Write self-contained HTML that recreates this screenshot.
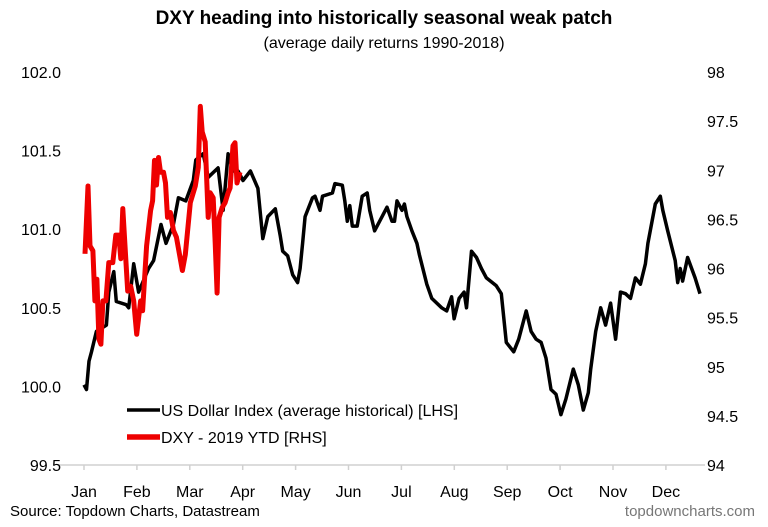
<!DOCTYPE html>
<html><head><meta charset="utf-8"><style>
body{margin:0;background:#fff;}
svg{display:block;font-family:"Liberation Sans",Arial,sans-serif;}
</style></head><body>
<svg id="chart" width="768" height="527">
<text x="384" y="24" text-anchor="middle" font-size="19" font-weight="bold" fill="#000">DXY heading into historically seasonal weak patch</text>
<text x="384" y="48" text-anchor="middle" font-size="16" fill="#000">(average daily returns 1990-2018)</text>
<g id="axes"></g>
<g id="series"></g>
<g>
<line x1="127" y1="410" x2="160" y2="410" stroke="#000" stroke-width="3.5"/>
<text x="161" y="416" font-size="16" fill="#000">US Dollar Index (average historical) [LHS]</text>
<line x1="127" y1="437" x2="160" y2="437" stroke="#e00" stroke-width="5.5"/>
<text x="161" y="443" font-size="16" fill="#000">DXY - 2019 YTD [RHS]</text>
</g>
<text x="10" y="516" font-size="15" fill="#000">Source: Topdown Charts, Datastream</text>
<text x="755" y="516" text-anchor="end" font-size="15" fill="#777">topdowncharts.com</text>
</svg>
<script>
const months=["Jan","Feb","Mar","Apr","May","Jun","Jul","Aug","Sep","Oct","Nov","Dec"];
const leftTicks=[99.5,100.0,100.5,101.0,101.5,102.0];
const rightTicks=[94,94.5,95,95.5,96,96.5,97,97.5,98];
const usdDays=[0,1,2,3,5,9,10,12,13,17,18,20,22,26,28,31,33,36,38,41,44,45,48,50,54,56,58,60,62,64,67,70,72,74,77,79,80,82,84,86,87,88,89,92,93,95,96,100,101,104,105,106,107,108,110,112,114,115,117,120,122,124,125,126,128,129,130,132,134,135,138,140,144,146,148,149,151,153,154,156,158,160,162,166,168,170,173,175,178,180,182,184,186,188,190,192,194,197,199,201,203,204,206,208,210,212,214,216,218,220,222,224,226,227,230,232,233,235,238,239,240,241,243,246,248];
const usdValues=[100.01,99.98,100.16,100.22,100.35,100.39,100.60,100.73,100.54,100.52,100.50,100.78,100.60,100.75,100.80,101.03,100.91,101.03,101.20,101.18,101.31,101.44,101.48,101.33,101.39,101.12,101.48,101.37,101.37,101.31,101.37,101.26,100.94,101.08,101.13,100.96,100.86,100.83,100.71,100.66,100.75,100.91,101.08,101.20,101.21,101.12,101.21,101.23,101.29,101.28,101.18,101.05,101.15,101.02,101.02,101.21,101.23,101.12,100.99,101.08,101.14,101.05,101.05,101.18,101.12,101.16,101.08,100.99,100.91,100.84,100.65,100.56,100.50,100.48,100.57,100.43,100.56,100.60,100.50,100.86,100.82,100.75,100.69,100.64,100.59,100.28,100.22,100.30,100.48,100.35,100.30,100.28,100.18,99.98,99.95,99.82,99.92,100.11,100.01,99.85,99.96,100.11,100.35,100.50,100.39,100.53,100.30,100.60,100.59,100.56,100.69,100.65,100.78,100.91,101.16,101.21,101.12,100.99,100.80,100.66,100.75,100.67,100.82,100.69,100.59];
const dxyDays=[0.4,1.6,2.4,3.6,4.4,5.2,6,6.8,7.6,8.8,10,11.6,12.8,14,14.8,15.6,16.8,17.6,18.8,20,21.2,22.8,23.6,25.2,26.8,27.6,28.4,29.2,30,30.8,32,32.8,33.6,34.8,36,37.2,39.6,40.8,42.8,44.8,46,46.8,47.6,48.8,50,50.8,52,52.8,53.6,54.4,55.6,56.8,58,58.8,60,60.8,61.6,62.8];
const dxyValues=[96.15,96.84,96.23,96.18,95.67,95.89,95.28,95.23,95.67,95.67,96.06,96.06,96.34,96.34,96.10,96.61,96.11,95.77,95.82,95.67,95.33,95.67,95.57,96.23,96.59,96.69,97.10,96.85,97.13,96.98,96.98,96.87,96.52,96.57,96.39,96.32,95.98,96.14,96.67,96.84,97.03,97.65,97.39,97.29,96.52,96.77,96.72,96.26,95.75,96.52,96.62,96.67,96.77,96.82,97.25,97.28,96.87,96.98];

const NS="http://www.w3.org/2000/svg";
const X0=84,X1=705,Y0=72,Y1=465,TOTAL=250;
function xDay(d){return X0+d/TOTAL*(X1-X0);}
function xMonth(i){return 84+i*52.9;}
function yL(v){return Y1-(v-99.5)/(102-99.5)*(Y1-Y0);}
function yR(v){return Y1-(v-94)/(98-94)*(Y1-Y0);}
function mk(tag,attrs,parent){const e=document.createElementNS(NS,tag);for(const k in attrs)e.setAttribute(k,attrs[k]);parent.appendChild(e);return e;}
const axes=document.getElementById('axes'),series=document.getElementById('series');

const axisLine=mk('line',{x1:57,y1:Y1,x2:X1,y2:Y1,stroke:'#d0d0d0','stroke-width':1.5},axes);


months.forEach((m,i)=>{
  const x=xMonth(i);
  const t=mk('line',{x1:x,y1:Y1,x2:x,y2:Y1+5,stroke:'#d0d0d0','stroke-width':1.5},axes);
  
  
  const l=mk('text',{x:x,y:497,'text-anchor':'middle','font-size':16,fill:'#000'},axes);
  l.textContent=m;
  
  
});
leftTicks.forEach(v=>{
  const l=mk('text',{x:61,y:yL(v)+6,'text-anchor':'end','font-size':16,fill:'#000'},axes);
  l.textContent=v.toFixed(1);
  
  
});
rightTicks.forEach(v=>{
  const l=mk('text',{x:707,y:yR(v)+6,'font-size':16,fill:'#000'},axes);
  l.textContent=String(v);
  
  
});
function path(days,vals,yf){return days.map((d,i)=>(i?'L':'M')+xDay(d).toFixed(1)+','+yf(vals[i]).toFixed(1)).join(' ');}
const usd=mk('path',{d:path(usdDays,usdValues,yL),fill:'none',stroke:'#000','stroke-width':3.5,'stroke-linejoin':'round'},series);


const dxy=mk('path',{d:path(dxyDays,dxyValues,yR),fill:'none',stroke:'#e00','stroke-width':5,'stroke-linejoin':'round'},series);


</script>
</body></html>
